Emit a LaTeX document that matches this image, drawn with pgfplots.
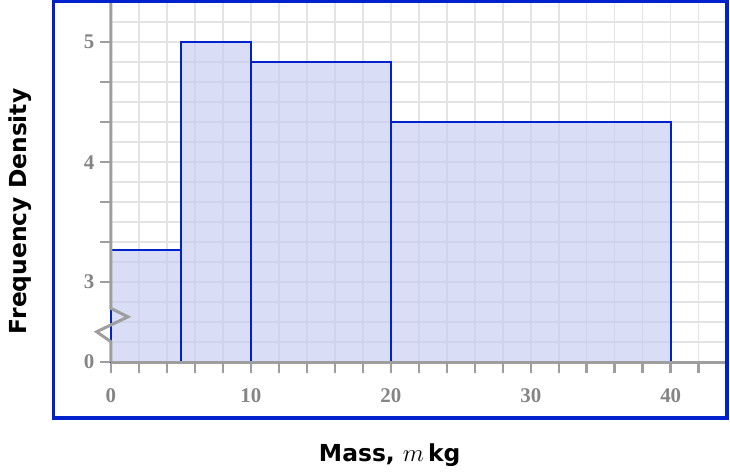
\documentclass[border=0pt]{standalone}
\usepackage{pgfplots}
\pgfplotsset{compat=1.18}
\usepackage{fontspec}
\setmainfont{Liberation Serif}
\newfontfamily\labelfont{DejaVu Sans}
\definecolor{frameblue}{HTML}{0022CC}
\definecolor{barbase}{HTML}{C4CBF1}
\definecolor{gridgray}{HTML}{E4E4E4}
\definecolor{axisgray}{HTML}{9E9E9E}
\definecolor{ticktext}{HTML}{858585}
\begin{document}
\begin{tikzpicture}[x=1bp,y=1bp]
\path (0,0) rectangle (730,472);
\begin{axis}[
  at={(111bp,110bp)}, anchor=south west,
  scale only axis, width=617bp, height=360bp,
  xmin=0, xmax=44.07, ymin=0, ymax=5.3333,
  y coord trafo/.code={\pgfmathparse{#1-7/3+(#1<2.999)*(7/3-#1*7/9)}},
  clip=false,
  axis line style={draw=none},
  /pgf/number format/assume math mode=true,
  xtick pos=bottom, ytick pos=left,
  xtick={0,2,...,42},
  xticklabels={0,,,,,10,,,,,20,,,,,30,,,,,40,},
  extra x ticks={44}, extra x tick labels={}, extra x tick style={major tick length=0pt, grid=major},
  ytick={0,3,4,5}, yticklabels={0,3,4,5},
  minor ytick={0.75,1.5,2.25,3.16667,3.33333,3.5,3.66667,3.83333,4.16667,4.33333,4.5,4.66667,4.83333,5.16667},
  extra y ticks={3.33333,3.66667,4.33333,4.66667},
  extra y tick labels={},
  extra y tick style={grid=none, major tick length=11bp},
  grid=both,
  major grid style={gridgray, line width=1.5bp},
  minor grid style={gridgray, line width=1.5bp},
  tick align=outside,
  major tick length=11bp,
  minor tick length=0pt,
  tick style={axisgray, line width=2.5bp},
  ticklabel style={font=\fontsize{21}{21}\selectfont\bfseries, text=ticktext},
  xticklabel style={yshift=-12bp},
  yticklabel style={xshift=-2bp},
  xlabel={\labelfont\bfseries Mass, $m$\,kg},
  ylabel={\labelfont\bfseries Frequency Density},
  xlabel style={at={(axis description cs:0.452,-0.258)}, anchor=center, font=\fontsize{23.5}{23.5}\selectfont},
  ylabel style={at={(axis description cs:-0.1475,0.419)}, anchor=center, font=\fontsize{23.5}{23.5}\selectfont},
]
\addplot[ybar interval, fill=barbase, fill opacity=0.65, draw=frameblue, draw opacity=1, line width=1.8bp]
  coordinates {(0,3.267) (5,5) (10,4.833) (20,4.333) (40,4.333)};
% axis lines
\draw[axisgray, line width=3bp] (rel axis cs:0,0) -- (rel axis cs:1,0);
\draw[axisgray, line width=3bp, line join=miter] (rel axis cs:0,1) -- (rel axis cs:0,0.1492)
  -- ([xshift=17bp]rel axis cs:0,0.1258) -- ([xshift=-14.3bp]rel axis cs:0,0.0842)
  -- (rel axis cs:0,0.0564) -- (rel axis cs:0,0);
\end{axis}
\draw[frameblue, line width=3.5bp] (53.5,54) rectangle (727.5,470.5);
\end{tikzpicture}
\end{document}
